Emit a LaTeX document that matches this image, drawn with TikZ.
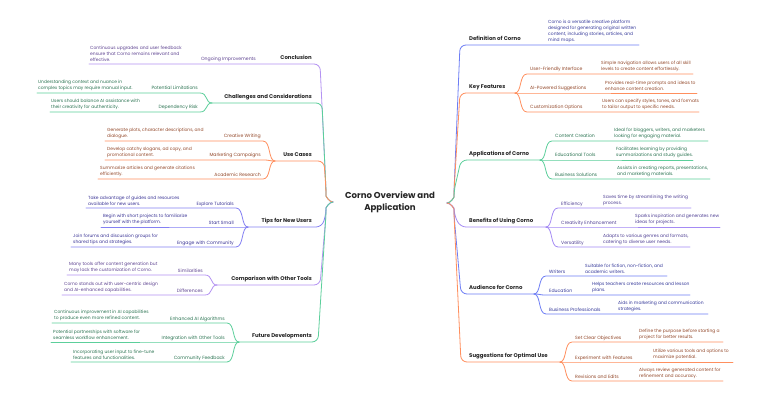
\documentclass[tikz,border=0pt]{standalone}
\usepackage{fontspec}
\setmainfont{Poppins}
\definecolor{cPurple}{HTML}{B493F2}
\definecolor{cPurpleT}{HTML}{5E4391}
\definecolor{cPurpleB}{HTML}{A48AF4}
\definecolor{cPurpleBT}{HTML}{4F3F94}
\definecolor{cGreen}{HTML}{5CCF9B}
\definecolor{cGreenT}{HTML}{2B7452}
\definecolor{cOrange}{HTML}{FF8F5E}
\definecolor{cOrangeT}{HTML}{93482A}
\definecolor{cBlue}{HTML}{6E7EF5}
\definecolor{cBlueT}{HTML}{35399A}
\definecolor{cViolet}{HTML}{8480F3}
\definecolor{cVioletT}{HTML}{3B3596}
\tikzset{
  detail/.style={font=\fontsize{4.45}{6.1}\selectfont, align=left, inner sep=0pt},
  sublab/.style={font=\fontsize{4.6}{6}\selectfont, inner sep=0pt},
  mainlab/.style={font=\bfseries\fontsize{5.4}{6.5}\selectfont, text=black!85, inner sep=0pt},
  br/.style={line width=0.8pt, line cap=round, line join=round},
}
% right sub-branch: color, Jx, Jy, y, endx, label, detailx, detail
\newcommand\RSub[8]{%
  \draw[br,#1] (#2,#3) .. controls (#2+7,#3) and (#2+4,#4) .. (#2+12,#4) -- (#5,#4);
  \node[sublab,text=#1T,anchor=base west] (#6) at (#2+15,#4-3) {#6};
  \node[detail,text=#1T,anchor=south west] (#6 d) at (#7,#4-2.2) {#8};
}
% left sub-branch
\newcommand\LSub[8]{%
  \draw[br,#1] (#2,#3) .. controls (#2-7,#3) and (#2-4,#4) .. (#2-12,#4) -- (#5,#4);
  \node[sublab,text=#1T,anchor=base east] (#6) at (#2-14,#4-3) {#6};
  \node[detail,text=#1T,anchor=south west] (#6 d) at (#7,#4-2.2) {#8};
}
% right main: color, y, midy, turnx, endx, label
\newcommand\RMain[6]{%
  \draw[br,#1,rounded corners=6] (C2) .. controls (451,203) and (454,{(203+#3)/2}) .. (454,#3) -- (#4,#2) -- (#5,#2);
  \node[mainlab,anchor=base west] (#6) at (469,#2-4.5) {#6};
}
% left main
\newcommand\LMain[6]{%
  \draw[br,#1,rounded corners=6] (C1) .. controls (329,202) and (326,{(202+#3)/2}) .. (326,#3) -- (#4,#2) -- (#5,#2);
  \node[mainlab,anchor=base east] (#6) at (312,#2-4.5) {#6};
}
\begin{document}
\begin{tikzpicture}[x=1pt,y=-1pt]
\useasboundingbox[fill=white] (0,0) rectangle (768,401);
\coordinate (C1) at (333,202);
\coordinate (C2) at (447,203);
\node[font=\bfseries\fontsize{8.6}{12}\selectfont, align=center, text=black!85] (root) at (390,202) {Corno Overview and\\Application};

% ---------- LEFT ----------
\LMain{cPurple}{64}{190}{320}{89}{Conclusion}
\node[sublab,text=cPurpleT,anchor=base east] (ongoing) at (256,61) {Ongoing Improvements};
\node[detail,text=cPurpleT,anchor=south west] (ongoing d) at (90,61.8) {Continuous upgrades and user feedback\\ensure that Corno remains relevant and\\effective.};

\LMain{cGreen}{103}{190}{322}{212}{Challenges and Considerations}
\LSub{cGreen}{212}{103}{93}{37}{Potential Limitations}{38}{Understanding context and nuance in\\complex topics may require manual input.}
\LSub{cGreen}{212}{103}{112}{50}{Dependency Risk}{51}{Users should balance AI assistance with\\their creativity for authenticity.}

\LMain{cOrange}{161}{190}{324}{275}{Use Cases}
\LSub{cOrange}{275}{161}{141}{105}{Creative Writing}{107}{Generate plots, character descriptions, and\\dialogue.}
\LSub{cOrange}{275}{161}{160}{105}{Marketing Campaigns}{107}{Develop catchy slogans, ad copy, and\\promotional content.}
\LSub{cOrange}{275}{161}{179}{98}{Academic Research}{100}{Summarize articles and generate citations\\efficiently.}

\LMain{cViolet}{227}{214}{322}{248}{Tips for New Users}
\LSub{cViolet}{248}{227}{208}{86}{Explore Tutorials}{88}{Take advantage of guides and resources\\available for new users.}
\LSub{cViolet}{248}{227}{227}{101}{Start Small}{103}{Begin with short projects to familiarize\\yourself with the platform.}
\LSub{cViolet}{248}{227}{247}{71}{Engage with Community}{73}{Join forums and discussion groups for\\shared tips and strategies.}

\LMain{cPurple}{285}{214}{320}{217}{Comparison with Other Tools}
\LSub{cPurple}{217}{285}{275}{67}{Similarities}{69}{Many tools offer content generation but\\may lack the customization of Corno.}
\LSub{cPurple}{217}{285}{295}{62}{Differences}{64}{Corno stands out with user-centric design\\and AI-enhanced capabilities.}

\LMain{cGreen}{342}{214}{318}{239}{Future Developments}
\LSub{cGreen}{239}{342}{323}{52}{Enhanced AI Algorithms}{54}{Continuous improvement in AI capabilities\\to produce even more refined content.}
\LSub{cGreen}{239}{342}{342}{51}{Integration with Other Tools}{53}{Potential partnerships with software for\\seamless workflow enhancement.}
\LSub{cGreen}{239}{342}{362}{71}{Community Feedback}{73}{Incorporating user input to fine-tune\\features and functionalities.}

% ---------- RIGHT ----------
\RMain{cBlue}{45}{191}{460}{639}{Definition of Corno}
\node[detail,text=cBlueT,anchor=south west] (def d) at (548,42.8) {Corno is a versatile creative platform\\designed for generating original written\\content, including stories, articles, and\\mind maps.};

\RMain{cOrange}{93}{191}{460}{515}{Key Features}
\RSub{cOrange}{515}{93}{74}{693}{User-Friendly Interface}{601}{Simple navigation allows users of all skill\\levels to create content effortlessly.}
\RSub{cOrange}{515}{93}{93}{697}{AI-Powered Suggestions}{605}{Provides real-time prompts and ideas to\\enhance content creation.}
\RSub{cOrange}{515}{93}{112}{699}{Customization Options}{602}{Users can specify styles, tones, and formats\\to tailor output to specific needs.}

\RMain{cGreen}{160}{191}{461}{540}{Applications of Corno}
\RSub{cGreen}{540}{160}{141}{708}{Content Creation}{614}{Ideal for bloggers, writers, and marketers\\looking for engaging material.}
\RSub{cGreen}{540}{160}{160}{693}{Educational Tools}{616}{Facilitates learning by providing\\summarizations and study guides.}
\RSub{cGreen}{540}{160}{179}{710}{Business Solutions}{617}{Assists in creating reports, presentations,\\and marketing materials.}

\RMain{cPurpleB}{227}{214}{460}{546}{Benefits of Using Corno}
\RSub{cPurpleB}{546}{227}{208}{691}{Efficiency}{603}{Saves time by streamlining the writing\\process.}
\RSub{cPurpleB}{546}{227}{227}{720}{Creativity Enhancement}{635}{Sparks inspiration and generates new\\ideas for projects.}
\RSub{cPurpleB}{546}{227}{247}{690}{Versatility}{603}{Adapts to various genres and formats,\\catering to diverse user needs.}

\RMain{cBlue}{294}{215}{461}{534}{Audience for Corno}
\RSub{cBlue}{534}{294}{276}{667}{Writers}{585}{Suitable for fiction, non-fiction, and\\academic writers.}
\RSub{cBlue}{534}{294}{295}{690}{Education}{592}{Helps teachers create resources and lesson\\plans.}
\RSub{cBlue}{534}{294}{314}{708}{Business Professionals}{618}{Aids in marketing and communication\\strategies.}

\RMain{cOrange}{362}{215}{461}{560}{Suggestions for Optimal Use}
\RSub{cOrange}{560}{362}{342}{723}{Set Clear Objectives}{639}{Define the purpose before starting a\\project for better results.}
\RSub{cOrange}{560}{362}{362}{733}{Experiment with Features}{653}{Utilize various tools and options to\\maximize potential.}
\RSub{cOrange}{560}{362}{381}{723}{Revisions and Edits}{639}{Always review generated content for\\refinement and accuracy.}
\end{tikzpicture}
\end{document}
